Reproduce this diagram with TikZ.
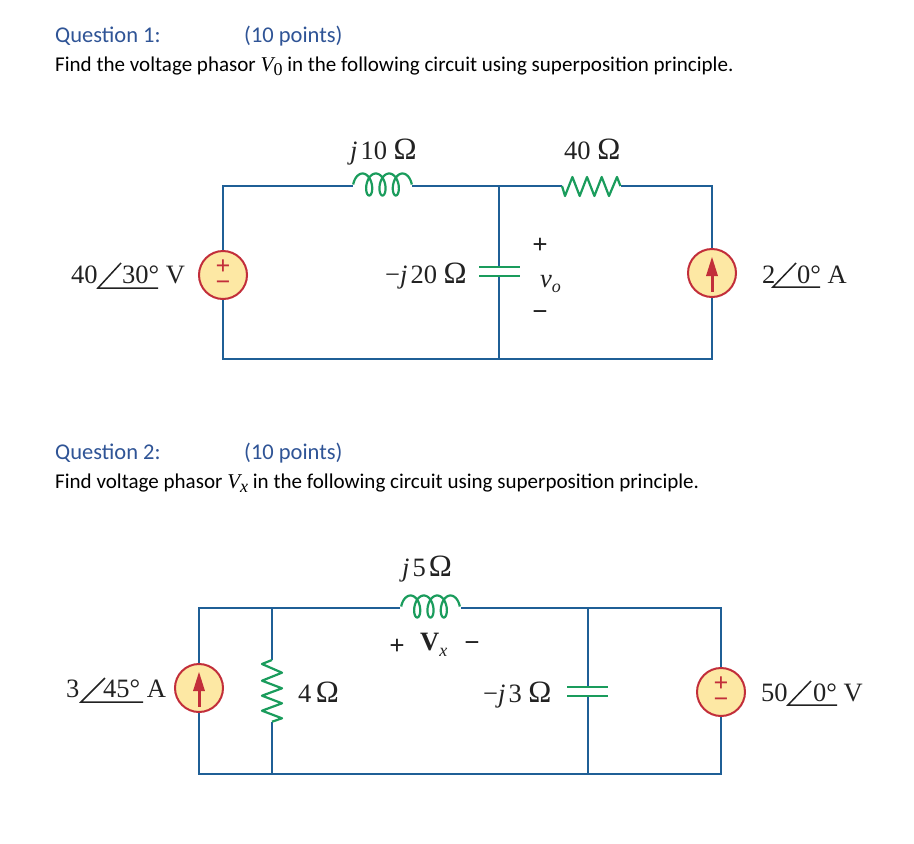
\documentclass[tikz,border=0pt]{standalone}
\usepackage{fontspec}
\usepackage{graphicx}
\setmainfont{Liberation Serif}
\newfontfamily\bodyface{Carlito}
\definecolor{wireblue}{HTML}{1F5F96}
\definecolor{elemgreen}{HTML}{1A9C5C}
\definecolor{srcfill}{HTML}{FDE8A4}
\definecolor{srcred}{HTML}{C22E3A}
\definecolor{headblue}{HTML}{2F5496}
\definecolor{lab}{HTML}{222222}
\newcommand{\subtxt}[2]{\raisebox{#1}{\fontsize{18}{18}\selectfont #2}}
\newcommand{\Om}{{\fontsize{31}{28}\selectfont Ω}}
\newcommand{\inductor}[2]{\draw[elem] plot[samples=160,domain=-90:1170,variable=\t]
  ({#1+2.12*rad(\t-540)+6*sin(\t)},{#2-1.5-11*cos(\t)});}
\newcommand{\hres}[2]{\draw[elem] (#1,#2) -- ++(3,10) -- ++(7.4,-19) -- ++(7.3,19) -- ++(7.3,-19) -- ++(7.4,19) -- ++(7.3,-19) -- ++(7.3,19) -- ++(8,-19) -- ++(3.4,9);}
\newcommand{\vres}[2]{\draw[elem] (#1,#2) -- ++(-10,4) -- ++(20,8.7) -- ++(-20,8) -- ++(20,7.6) -- ++(-20,7.4) -- ++(20,7.6) -- ++(-20,7.4) -- ++(20,7.6) -- ++(-10,3.4);}
\tikzset{
  x=1pt,y=-1pt,
  wire/.style={draw=wireblue,line width=2.8pt,line join=miter},
  elem/.style={draw=elemgreen,line width=2.2pt,line join=round},
  srcnode/.style={circle,draw=srcred,fill=srcfill,line width=2pt,minimum size=48pt,inner sep=0pt},
  lbl/.style={anchor=base west,inner sep=0pt,text=lab,font=\fontsize{26.5}{28}\selectfont},
  sign/.style={anchor=center,inner sep=0pt,text=lab,font=\bfseries\fontsize{27}{27}\selectfont},
  srcsign/.style={anchor=center,inner sep=0pt,text=srcred,font=\bfseries\fontsize{26}{26}\selectfont},
  head/.style={anchor=base west,inner sep=0pt,text=headblue,font=\bodyface\fontsize{22.5}{24}\selectfont},
  body/.style={anchor=base west,inner sep=0pt,text=black,font=\bodyface\fontsize{21.05}{24}\selectfont},
  angmark/.style={draw=lab,line width=1.5pt},
}
\newcommand{\isrc}[1]{\begin{scope}[shift={(#1.center)}]
  \fill[srcred] (0,-16) -- (6,3) -- (-6,3) -- cycle;
  \draw[srcred,line width=3pt] (0,2) -- (0,19);
\end{scope}}
\newcommand{\vsrc}[1]{\begin{scope}[shift={(#1.center)}]
  \node[srcsign] (#1p) at (0,-8) {+};
  \node[srcsign] (#1m) at (0,11) {−};
\end{scope}}
\begin{document}
\begin{tikzpicture}
\useasboundingbox[fill=white] (0,0) rectangle (914,844);
% Texts
\node[head] (q1) at (55,42) {Question 1:};
\node[head] (p1) at (244,42) {(10 points)};
\node[body] (f1) at (55,71) {Find the voltage phasor {\rmfamily\itshape V}\subtxt{-4pt}{\rmfamily 0} in the following circuit using superposition principle.};
\node[head] (q2) at (55,459) {Question 2:};
\node[head] (p2) at (244,459) {(10 points)};
\node[body] (f2) at (55,488) {Find voltage phasor {\rmfamily\itshape V}\subtxt{-4pt}{\rmfamily\itshape x} in the following circuit using superposition principle.};

% Circuit 1
\coordinate (tl) at (223,186); \coordinate (bl) at (223,359);
\coordinate (la) at (353,186); \coordinate (lb) at (412,186);
\coordinate (jt) at (499,186); \coordinate (jb) at (499,359);
\coordinate (ra) at (562,186); \coordinate (rb) at (621,186);
\coordinate (tr) at (712,186); \coordinate (br) at (712,359);
\coordinate (ca) at (499,267); \coordinate (cb) at (499,276);
\coordinate (cal) at (479,267); \coordinate (car) at (520,267);
\coordinate (cbl) at (479,276); \coordinate (cbr) at (520,276);
\node[srcnode] (s1) at (223,275) {};
\node[srcnode] (s2) at (712,273) {};
\draw[wire] (s1.north) -- (tl) -- (la);
\draw[wire] (lb) -- (jt) -- (ra);
\draw[wire] (rb) -- (tr) -- (s2.north);
\draw[wire] (s2.south) -- (br) -- (bl) -- (s1.south);
\draw[wire] (jt) -- (ca);
\draw[wire] (cb) -- (jb);
\draw[elem] (cal) -- (car);
\draw[elem] (cbl) -- (cbr);
\inductor{382.5}{186}
\hres{562}{186}
\vsrc{s1}
\isrc{s2}
\node[lbl] (t1) at (350,159) {\textit{j}\kern3pt 10 \Om};
\node[lbl] (t2) at (564,159) {40 \Om};
\node[lbl] (t3) at (385,283) {−\textit{j}\kern3pt 20 \Om};
\node[sign] (t4) at (540,246) {+};
\node[lbl] (t5) at (540,287) {\textit{v}\subtxt{-5pt}{\itshape o}};
\node[sign] (t6) at (540,316) {−};
\node[lbl] (t7) at (71,283) {40};
\draw[angmark] (121,263) -- (98,288) -- (158,288);
\node[lbl] (t8) at (122,283) {30° V};
\node[lbl] (t9) at (762,283) {2};
\draw[angmark] (796,263) -- (773,287) -- (820,287);
\node[lbl] (t10) at (797,283) {0° A};

% Circuit 2
\coordinate (Tl) at (199,608); \coordinate (Bl) at (199,774);
\coordinate (Jt) at (272,608); \coordinate (Jb) at (272,774);
\coordinate (Ra) at (272,660); \coordinate (Rb) at (272,722);
\coordinate (La) at (400,608); \coordinate (Lb) at (461,608);
\coordinate (Kt) at (588,608); \coordinate (Kb) at (588,774);
\coordinate (Ca) at (588,687); \coordinate (Cb) at (588,696);
\coordinate (Cal) at (567,687); \coordinate (Car) at (608,687);
\coordinate (Cbl) at (567,696); \coordinate (Cbr) at (608,696);
\coordinate (Tr) at (721,608); \coordinate (Br) at (721,774);
\node[srcnode] (S1) at (199,688) {};
\node[srcnode] (S2) at (721,692) {};
\draw[wire] (S1.north) -- (Tl) -- (Jt) -- (La);
\draw[wire] (Lb) -- (Kt) -- (Tr) -- (S2.north);
\draw[wire] (S2.south) -- (Br) -- (Kb) -- (Jb) -- (Bl) -- (S1.south);
\draw[wire] (Jt) -- (Ra);
\draw[wire] (Rb) -- (Jb);
\draw[wire] (Kt) -- (Ca);
\draw[wire] (Cb) -- (Kb);
\draw[elem] (Cal) -- (Car);
\draw[elem] (Cbl) -- (Cbr);
\inductor{430.5}{608}
\vres{272}{660}
\isrc{S1}
\vsrc{S2}
\node[lbl] (u1) at (402,576) {\textit{j}\kern3pt 5\kern3pt\Om};
\node[sign] (u2) at (397,647) {+};
\node[lbl] (u3) at (420,650) {\textbf{V}\subtxt{-6pt}{\itshape x}};
\node[sign] (u4) at (472,647) {−};
\node[lbl] (u5) at (298,702) {4\,\Om};
\node[lbl] (u6) at (483,702) {−\textit{j}\kern3pt 3 \Om};
\node[lbl] (u7) at (66,697) {3};
\draw[angmark] (105,678) -- (81,702) -- (143,702);
\node[lbl] (u8) at (103,697) {45° A};
\node[lbl] (u9) at (761,701) {50};
\draw[angmark] (811,681) -- (788,705) -- (837,705);
\node[lbl] (u10) at (813,701) {0° V};
\end{tikzpicture}
\end{document}
